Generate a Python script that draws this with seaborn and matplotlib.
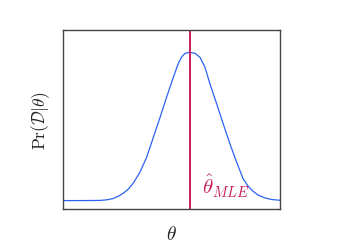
import matplotlib
matplotlib.use("Agg")
import matplotlib.pyplot as plt
import seaborn as sns
import pandas as pd

theta = [0.0, 0.77, 1.69, 2.00, 2.30, 2.53, 2.76, 3.00, 3.23, 3.53, 3.84, 4.15, 4.46,
         4.76, 5.07, 5.30, 5.46, 5.61, 5.81, 6.07, 6.30, 6.53, 6.76, 7.07, 7.37, 7.68,
         7.99, 8.29, 8.53, 8.76, 8.99, 9.29, 9.62, 10.0]
likelihood = [0.0, 0.0, 0.001, 0.005, 0.014, 0.029, 0.049, 0.078, 0.119, 0.191, 0.292,
              0.427, 0.562, 0.697, 0.831, 0.925, 0.970, 0.993, 1.0, 0.993, 0.966, 0.899,
              0.786, 0.651, 0.517, 0.382, 0.258, 0.146, 0.095, 0.061, 0.036, 0.018,
              0.007, 0.002]
theta_mle = 5.83

sns.set_theme(style="white")
plt.rcParams["mathtext.fontset"] = "cm"
plt.rcParams["font.family"] = ["DejaVu Serif", "DejaVu Sans"]

df = pd.DataFrame({"theta": theta, "lik": likelihood})

fig = plt.figure(figsize=(3.38, 2.51), dpi=100)
ax = fig.add_axes([0.1873, 0.1622, 0.642, 0.7155])
sns.lineplot(data=df, x="theta", y="lik", ax=ax, color="#2b62f0", lw=0.9)
ax.axvline(theta_mle, color="#c81c5c", lw=1.4)
ax.text(6.38, 0.008, r"$\hat{\theta}_{MLE}$", color="#c81c5c", fontsize=15,
        ha="left", va="bottom")
ax.set_xlim(0, 10)
ax.set_ylim(-0.0587, 1.1524)
ax.set_xticks([])
ax.set_yticks([])
ax.set_xlabel(r"$\theta$", fontsize=14, labelpad=11)
ax.set_ylabel(r"$\Pr(\mathcal{D}|\theta)$", fontsize=12.5, labelpad=8)
for s in ax.spines.values():
    s.set_color("#444444")
    s.set_linewidth(1.0)
fig.savefig("out.png", dpi=100)
